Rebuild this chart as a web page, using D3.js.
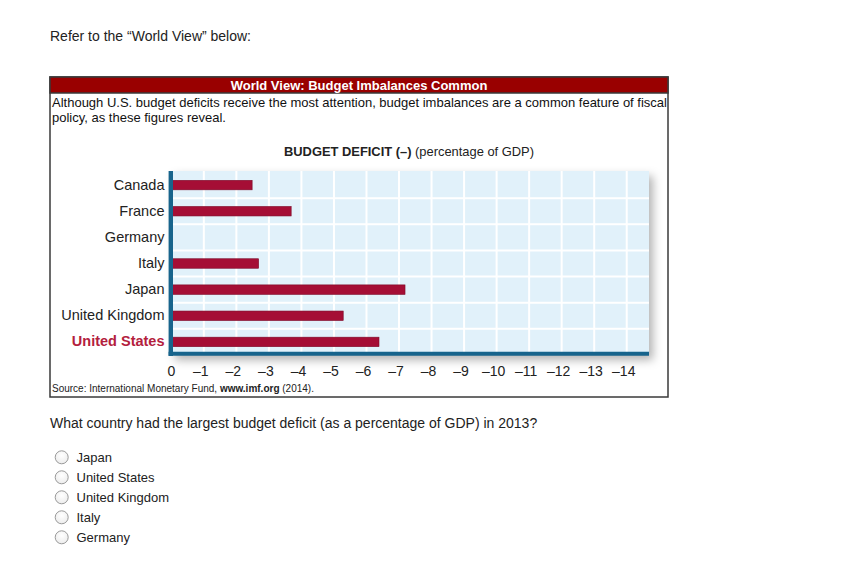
<!DOCTYPE html>
<html>
<head>
<meta charset="utf-8">
<script src="https://cdn.jsdelivr.net/npm/d3@7"></script>
<style>
  html, body { margin: 0; padding: 0; background: #fff; }
  svg { display: block; font-family: "Liberation Sans", Arial, sans-serif; }
</style>
</head>
<body>
<div id="chart"></div>
<script>
// ── Data ───────────────────────────────────────────────────────────────
const countries = ["Canada", "France", "Germany", "Italy", "Japan", "United Kingdom", "United States"];
const deficits = [-2.5, -3.7, 0, -2.7, -7.2, -5.3, -6.4];
const xTicks = [0, -1, -2, -3, -4, -5, -6, -7, -8, -9, -10, -11, -12, -13, -14];
const answerChoices = ["Japan", "United States", "United Kingdom", "Italy", "Germany"];

const data = countries.map((c, i) => ({ country: c, value: deficits[i] }));

// ── SVG ────────────────────────────────────────────────────────────────
const W = 850, H = 564;
const svg = d3.select("#chart").append("svg").attr("width", W).attr("height", H);

const defs = svg.append("defs");
defs.append("filter")
  .attr("id", "shadow")
  .attr("x", "-5%").attr("y", "-10%").attr("width", "115%").attr("height", "130%")
  .append("feDropShadow")
  .attr("dx", 4).attr("dy", 5).attr("stdDeviation", 5)
  .attr("flood-color", "#000").attr("flood-opacity", 0.3);

const radGrad = defs.append("radialGradient").attr("id", "radioFill")
  .attr("cx", "50%").attr("cy", "35%").attr("r", "65%");
radGrad.append("stop").attr("offset", "0%").attr("stop-color", "#ffffff");
radGrad.append("stop").attr("offset", "100%").attr("stop-color", "#ececec");

// ── Intro text ─────────────────────────────────────────────────────────
svg.append("text")
  .attr("x", 50).attr("y", 41)
  .style("font-size", "14px").attr("fill", "#222")
  .text("Refer to the \u201CWorld View\u201D below:");

// ── Box ────────────────────────────────────────────────────────────────
const box = { x: 50, y: 77, w: 618, h: 320 };
svg.append("rect")
  .attr("x", box.x).attr("y", box.y).attr("width", box.w).attr("height", box.h)
  .attr("fill", "#fff").attr("stroke", "#3a3a3a").attr("stroke-width", 1.5);

svg.append("rect")
  .attr("x", box.x).attr("y", box.y).attr("width", box.w).attr("height", 16)
  .attr("fill", "#990000").attr("stroke", "#3a3a3a").attr("stroke-width", 1.5);

svg.append("text")
  .attr("x", box.x + box.w / 2).attr("y", box.y + 12.5)
  .attr("text-anchor", "middle")
  .style("font-size", "13px").style("font-weight", "bold").attr("fill", "#fff")
  .text("World View: Budget Imbalances Common");

const desc = svg.append("text").style("font-size", "13px").attr("fill", "#111");
desc.append("tspan").attr("x", 52).attr("y", 107)
  .text("Although U.S. budget deficits receive the most attention, budget imbalances are a common feature of fiscal");
desc.append("tspan").attr("x", 52).attr("y", 122)
  .text("policy, as these figures reveal.");

// ── Chart title ────────────────────────────────────────────────────────
const title = svg.append("text")
  .attr("x", 409).attr("y", 156).attr("text-anchor", "middle")
  .style("font-size", "12.9px").attr("fill", "#222");
title.append("tspan").style("font-weight", "bold").text("BUDGET DEFICIT (\u2013) ");
title.append("tspan").text("(percentage of GDP)");

// ── Scales ─────────────────────────────────────────────────────────────
const plot = { left: 170.8, right: 649, top: 171, bottom: 355 };

const xScale = d3.scaleLinear()
  .domain([0, -14.7])
  .range([plot.left, plot.right]);

const yScale = d3.scaleBand()
  .domain(countries)
  .range([plot.top + 1, plot.bottom])
  .paddingInner(0)
  .paddingOuter(0);

// ── Panel background with shadow ───────────────────────────────────────
svg.append("rect")
  .attr("x", plot.left).attr("y", plot.top)
  .attr("width", plot.right - plot.left).attr("height", plot.bottom - plot.top)
  .attr("fill", "#e1f1fa")
  .attr("filter", "url(#shadow)");

// ── Grid lines ─────────────────────────────────────────────────────────
svg.append("g")
  .attr("class", "grid grid-x")
  .attr("transform", `translate(0,${plot.top})`)
  .call(d3.axisBottom(xScale).tickValues(xTicks.slice(1)).tickSize(plot.bottom - plot.top).tickFormat(""))
  .call((g) => g.select(".domain").remove())
  .call((g) => g.selectAll("line").attr("stroke", "#fff").attr("stroke-width", 2));

svg.append("g")
  .attr("class", "grid grid-y")
  .selectAll("line")
  .data(countries.slice(1))
  .join("line")
  .attr("x1", plot.left).attr("x2", plot.right)
  .attr("y1", (d) => yScale(d)).attr("y2", (d) => yScale(d))
  .attr("stroke", "#fff").attr("stroke-width", 2);

// ── Bars ───────────────────────────────────────────────────────────────
const barH = 9.5;
svg.append("g")
  .selectAll("rect")
  .data(data)
  .join("rect")
  .attr("x", xScale(0))
  .attr("y", (d) => yScale(d.country) + yScale.bandwidth() / 2 - barH / 2)
  .attr("width", (d) => xScale(d.value) - xScale(0))
  .attr("height", barH)
  .attr("fill", "#a50e35")
  .attr("stroke", (d) => (d.value === 0 ? "none" : "#7d0a28"))
  .attr("stroke-width", 0.6);

// ── Axis lines ─────────────────────────────────────────────────────────
svg.append("line")
  .attr("x1", plot.left).attr("x2", plot.left)
  .attr("y1", plot.top).attr("y2", plot.bottom + 1)
  .attr("stroke", "#17648c").attr("stroke-width", 4.4);

svg.append("line")
  .attr("x1", plot.left - 2.2).attr("x2", plot.right)
  .attr("y1", plot.bottom - 1.3).attr("y2", plot.bottom - 1.3)
  .attr("stroke", "#17648c").attr("stroke-width", 4);

// ── Country labels ─────────────────────────────────────────────────────
svg.append("g")
  .selectAll("text")
  .data(countries)
  .join("text")
  .attr("x", 164.5)
  .attr("y", (d) => yScale(d) + yScale.bandwidth() / 2 + 4.5)
  .attr("text-anchor", "end")
  .style("font-size", "14.5px")
  .style("font-weight", (d) => (d === "United States" ? "bold" : "normal"))
  .attr("fill", (d) => (d === "United States" ? "#b3203d" : "#222"))
  .text((d) => d);

// ── X axis tick labels ─────────────────────────────────────────────────
svg.append("g")
  .attr("class", "axis axis-x")
  .attr("transform", `translate(0,${plot.bottom + 8})`)
  .call(d3.axisBottom(xScale).tickValues(xTicks).tickSize(0)
    .tickFormat((d) => (d === 0 ? "0" : "\u2013" + Math.abs(d))))
  .call((g) => g.select(".domain").remove())
  .call((g) => g.selectAll("text")
    .attr("fill", "#222")
    .attr("dx", (d) => (d === 0 ? 0 : -3))
    .style("font-size", "14px")
    .style("font-family", "'Liberation Sans', Arial, sans-serif"));

// ── Source ─────────────────────────────────────────────────────────────
const src = svg.append("text")
  .attr("x", 52).attr("y", 392)
  .style("font-size", "10px").attr("fill", "#222");
src.append("tspan").text("Source: International Monetary Fund, ");
src.append("tspan").style("font-weight", "bold").text("www.imf.org");
src.append("tspan").text(" (2014).");

// ── Question ───────────────────────────────────────────────────────────
svg.append("text")
  .attr("x", 50).attr("y", 428)
  .style("font-size", "14px").attr("fill", "#222")
  .text("What country had the largest budget deficit (as a percentage of GDP) in 2013?");

const choices = svg.append("g")
  .selectAll("g")
  .data(answerChoices)
  .join("g")
  .attr("transform", (d, i) => `translate(0,${457.3 + i * 20})`);

choices.append("circle")
  .attr("cx", 61.7).attr("cy", 0).attr("r", 6.5)
  .attr("fill", "url(#radioFill)")
  .attr("stroke", "#9a9a9a").attr("stroke-width", 1);

choices.append("text")
  .attr("x", 76.5).attr("y", 4.8)
  .style("font-size", "13px").attr("fill", "#222")
  .text((d) => d);
</script>
</body>
</html>
